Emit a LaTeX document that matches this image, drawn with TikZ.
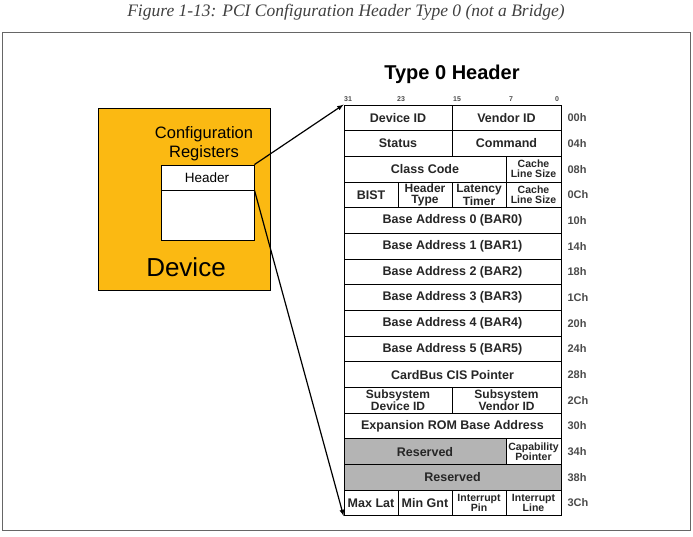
\documentclass[tikz,border=0pt]{standalone}
\usepackage{fontspec}
\setmainfont{Liberation Serif}
\newfontfamily\arial{Liberation Sans}
\definecolor{dev}{HTML}{FBB912}
\definecolor{res}{HTML}{B4B4B4}
\definecolor{lab}{HTML}{4A4A4A}
\begin{document}
\begin{tikzpicture}[x=1pt,y=-1pt,
  cell/.style={draw,line width=0.8pt,inner sep=0pt,font=\arial\bfseries\fontsize{12.5}{12.5}\selectfont,align=center,text=black!85},
  two/.style={font=\arial\bfseries\fontsize{12}{10.5}\selectfont},
  twos/.style={font=\arial\bfseries\fontsize{10.5}{10}\selectfont},
  off/.style={font=\arial\bfseries\fontsize{11}{11}\selectfont,text=lab,anchor=west},
  bit/.style={font=\arial\bfseries\fontsize{7}{7}\selectfont,text=lab}]
\useasboundingbox (0,0) rectangle (693,537);
\node[font=\itshape\fontsize{17.5}{17.5}\selectfont,text=black!75] (cap) at (346,12) {Figure 1-13: PCI Configuration Header Type 0 (not a Bridge)};
\draw[line width=1pt,black!60] (2,33) rectangle (690,530);
\node[draw,fill=dev,line width=0.8pt,minimum width=172pt,minimum height=182pt,inner sep=0pt] (dev) at (184,199) {};
\node[font=\arial\fontsize{16.5}{19}\selectfont,align=center] (cr) at (204,144) {Configuration\\Registers};
\node[draw,fill=white,line width=0.8pt,minimum width=93pt,minimum height=75pt,inner sep=0pt] (hb) at (207.5,202.5) {};
\draw[line width=0.8pt] (hb.west |- 0,190) coordinate (hl) -- (hb.east |- 0,190) coordinate (hr);
\node[font=\arial\fontsize{13.5}{13.5}\selectfont] (ht) at (207,178) {Header};
\node[font=\arial\fontsize{26}{26}\selectfont] (dt) at (186,267) {Device};
\node[font=\arial\bfseries\fontsize{20}{20}\selectfont] (tt) at (452,74) {Type 0 Header};
\node[bit] (b31) at (348,99) {31};
\node[bit] (b23) at (401,99) {23};
\node[bit] (b15) at (457,99) {15};
\node[bit] (b7) at (511,99) {7};
\node[bit] (b0) at (557,99) {0};
\def\rh{25.67}
\newcommand\cellx[7][]{\node[cell,#1,fill=#6,minimum width={#3-#2},minimum height=\rh pt] (#5) at ({(#2+#3)/2},{105+(#4+0.5)*\rh}) {#7};}
\def\A{344}\def\B{398}\def\C{452}\def\D{506}\def\E{561}
\cellx{\A}{\C}{0}{devid}{white}{Device ID}
\cellx{\C}{\E}{0}{venid}{white}{Vendor ID}
\cellx{\A}{\C}{1}{stat}{white}{Status}
\cellx{\C}{\E}{1}{cmd}{white}{Command}
\cellx{\A}{\D}{2}{cc}{white}{Class Code}
\cellx[twos]{\D}{\E}{2}{cls}{white}{Cache\\Line Size}
\cellx{\A}{\B}{3}{bist}{white}{BIST}
\cellx[two]{\B}{\C}{3}{htype}{white}{Header\\Type}
\cellx[two]{\C}{\D}{3}{lat}{white}{Latency\\Timer}
\cellx[twos]{\D}{\E}{3}{cls2}{white}{Cache\\Line Size}
\cellx{\A}{\E}{4}{bar0}{white}{Base Address 0 (BAR0)}
\cellx{\A}{\E}{5}{bar1}{white}{Base Address 1 (BAR1)}
\cellx{\A}{\E}{6}{bar2}{white}{Base Address 2 (BAR2)}
\cellx{\A}{\E}{7}{bar3}{white}{Base Address 3 (BAR3)}
\cellx{\A}{\E}{8}{bar4}{white}{Base Address 4 (BAR4)}
\cellx{\A}{\E}{9}{bar5}{white}{Base Address 5 (BAR5)}
\cellx{\A}{\E}{10}{cis}{white}{CardBus CIS Pointer}
\cellx[two]{\A}{\C}{11}{sdid}{white}{Subsystem\\Device ID}
\cellx[two]{\C}{\E}{11}{svid}{white}{Subsystem\\Vendor ID}
\cellx{\A}{\E}{12}{rom}{white}{Expansion ROM Base Address}
\cellx{\A}{\D}{13}{res1}{res}{Reserved}
\cellx[twos]{\D}{\E}{13}{capp}{white}{Capability\\Pointer}
\cellx{\A}{\E}{14}{res2}{res}{Reserved}
\cellx{\A}{\B}{15}{maxl}{white}{Max Lat}
\cellx{\B}{\C}{15}{ming}{white}{Min Gnt}
\cellx[twos]{\C}{\D}{15}{ipin}{white}{Interrupt\\Pin}
\cellx[twos]{\D}{\E}{15}{iline}{white}{Interrupt\\Line}
\foreach \n/\t [count=\i from 0] in {devid/00h,stat/04h,cc/08h,bist/0Ch,bar0/10h,bar1/14h,bar2/18h,bar3/1Ch,bar4/20h,bar5/24h,cis/28h,sdid/2Ch,rom/30h,res1/34h,res2/38h,maxl/3Ch}
  \node[off] (o\i) at (564,{105+(\i+0.5)*\rh}) {\t};
\draw[-latex,line width=1.2pt] (hb.north east) -- (devid.north west);
\draw[-latex,line width=1.2pt] (hr) -- (maxl.south west);
\end{tikzpicture}
\end{document}
